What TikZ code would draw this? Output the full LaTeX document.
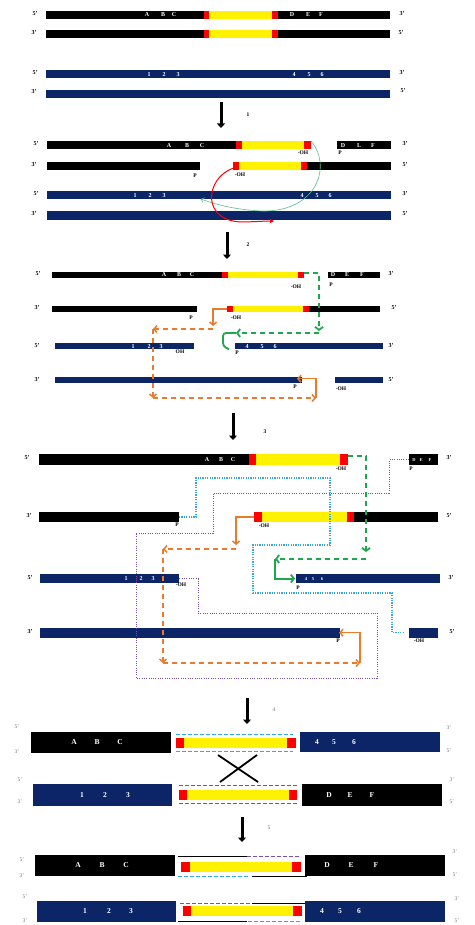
\documentclass[tikz,border=0pt]{standalone}
\usepackage{fontspec}
\setmainfont{Liberation Serif}
\usetikzlibrary{arrows.meta}
\definecolor{navy}{HTML}{0B2566}
\definecolor{grn}{HTML}{1FA64E}
\definecolor{lgrn}{HTML}{5CBF8C}
\definecolor{org}{HTML}{E97B2C}
\definecolor{cyn}{HTML}{36A8DE}
\definecolor{prp}{HTML}{7D50A8}
\begin{document}
\begin{tikzpicture}[x=1pt,y=-1pt]
  \tikzstyle{dna}=[rectangle,anchor=north west,inner sep=0pt,outer sep=0pt,fill=black]
  \tikzstyle{host}=[dna,fill=navy]
  \tikzstyle{redend}=[dna,fill=red]
  \tikzstyle{core}=[dna,fill=yellow]
  \tikzstyle{seqtxt}=[inner sep=0pt,text=white,font=\fontsize{6}{7}\selectfont\bfseries]
  \tikzstyle{smalltxt}=[seqtxt,font=\fontsize{4.5}{5}\selectfont\bfseries]
  \tikzstyle{bigtxt}=[seqtxt,font=\fontsize{7.5}{8}\selectfont\bfseries]
  \tikzstyle{endlbl}=[inner sep=0pt,font=\fontsize{6}{7}\selectfont\bfseries]
  \tikzstyle{greylbl}=[inner sep=0pt,text=black!55,font=\fontsize{5.5}{6}\selectfont]
  \tikzstyle{chem}=[inner sep=0pt,font=\fontsize{5.5}{6}\selectfont\bfseries]
  \tikzstyle{stepline}=[line width=3pt,-{Triangle[length=4.5pt,width=8pt]}]
  \tikzstyle{gdash}=[draw=grn,line width=1.8pt,dash pattern=on 5pt off 4pt,-{Straight Barb[length=3pt,width=8pt]}]
  \tikzstyle{gsolid}=[gdash,solid]
  \tikzstyle{odash}=[draw=org,line width=1.5pt,dash pattern=on 5pt off 4pt,-{Straight Barb[length=3pt,width=7pt]}]
  \tikzstyle{osolid}=[odash,solid]
  \tikzstyle{cdot}=[draw=cyn,line width=1.1pt,dash pattern=on 1.2pt off 1.2pt]
  \tikzstyle{pdot}=[draw=prp,line width=0.9pt,dash pattern=on 1pt off 1.3pt]
  \tikzstyle{cdash}=[draw=cyn,line width=1pt,dash pattern=on 4pt off 2pt]
  \tikzstyle{pdash}=[draw=prp,line width=1pt,dash pattern=on 4pt off 2pt]
  \useasboundingbox (0,0) rectangle (474,925);
  \fill[white] (0,0) rectangle (474,925);

  % stage 0
  \node[dna,minimum width=344pt,minimum height=8pt] (a0t) at (46,11) {};
  \node[redend,minimum width=5pt,minimum height=8pt] (r0a) at (204,11) {};
  \node[core,minimum width=63pt,minimum height=8pt] (y0a) at (209,11) {};
  \node[redend,minimum width=6pt,minimum height=8pt] (r0b) at (272,11) {};
  \node[dna,minimum width=344pt,minimum height=8pt] (a0b) at (46,30.5) {};
  \node[redend,minimum width=5pt,minimum height=8pt] (r0c) at (204,30.5) {};
  \node[core,minimum width=63pt,minimum height=8pt] (y0b) at (209,30.5) {};
  \node[redend,minimum width=6pt,minimum height=8pt] (r0d) at (272,30.5) {};
  \node[host,minimum width=344pt,minimum height=8pt] (b0t) at (46,70.5) {};
  \node[host,minimum width=344pt,minimum height=8pt] (b0b) at (46,90) {};

  % stage 1
  \node[dna,minimum width=189pt,minimum height=8.5pt] (a1t) at (47,141) {};
  \node[redend,minimum width=6pt,minimum height=8.5pt] (r1a) at (236,141) {};
  \node[core,minimum width=62pt,minimum height=8.5pt] (y1a) at (242,141) {};
  \node[redend,minimum width=7pt,minimum height=8.5pt] (r1b) at (304,141) {};
  \node[dna,minimum width=54pt,minimum height=8.5pt] (a1tr) at (337,141) {};
  \node[dna,minimum width=153pt,minimum height=8.5pt] (a1b) at (47,162) {};
  \node[redend,minimum width=6pt,minimum height=8.5pt] (r1c) at (233,162) {};
  \node[core,minimum width=62pt,minimum height=8.5pt] (y1b) at (239,162) {};
  \node[redend,minimum width=6pt,minimum height=8.5pt] (r1d) at (301,162) {};
  \node[dna,minimum width=84pt,minimum height=8.5pt] (a1br) at (307,162) {};
  \node[host,minimum width=344pt,minimum height=8.5pt] (b1t) at (47,191) {};
  \node[host,minimum width=344pt,minimum height=9pt] (b1b) at (47,211) {};

  % stage 2
  \node[dna,minimum width=170pt,minimum height=6.6pt] (a2t) at (52,271.7) {};
  \node[redend,minimum width=6pt,minimum height=6.6pt] (r2a) at (222,271.7) {};
  \node[core,minimum width=70pt,minimum height=6.6pt] (y2a) at (228,271.7) {};
  \node[redend,minimum width=6pt,minimum height=6.6pt] (r2b) at (298,271.7) {};
  \node[dna,minimum width=52pt,minimum height=6.6pt] (a2tr) at (328,271.7) {};
  \node[dna,minimum width=145pt,minimum height=6.6pt] (a2b) at (52,305.7) {};
  \node[redend,minimum width=6pt,minimum height=6.6pt] (r2c) at (227,305.7) {};
  \node[core,minimum width=70pt,minimum height=6.6pt] (y2b) at (233,305.7) {};
  \node[redend,minimum width=6pt,minimum height=6.6pt] (r2d) at (303,305.7) {};
  \node[dna,minimum width=71pt,minimum height=6.6pt] (a2br) at (309,305.7) {};
  \node[host,minimum width=139pt,minimum height=6pt] (b2t) at (55,343.3) {};
  \node[host,minimum width=148pt,minimum height=6pt] (b2tr) at (235,343.3) {};
  \node[host,minimum width=247pt,minimum height=6.6pt] (b2b) at (55,376.7) {};
  \node[host,minimum width=48pt,minimum height=6.6pt] (b2br) at (335,376.7) {};

  % stage 3
  \node[dna,minimum width=210pt,minimum height=11pt] (a3t) at (39,454.3) {};
  \node[redend,minimum width=7pt,minimum height=11pt] (r3a) at (249,454.3) {};
  \node[core,minimum width=84pt,minimum height=11pt] (y3a) at (256,454.3) {};
  \node[redend,minimum width=8pt,minimum height=11pt] (r3b) at (340,454.3) {};
  \node[dna,minimum width=29pt,minimum height=11pt] (a3tr) at (409,454.3) {};
  \node[dna,minimum width=140pt,minimum height=10.6pt] (a3b) at (39,511.7) {};
  \node[redend,minimum width=8pt,minimum height=10.6pt] (r3c) at (254,511.7) {};
  \node[core,minimum width=85pt,minimum height=10.6pt] (y3b) at (262,511.7) {};
  \node[redend,minimum width=7pt,minimum height=10.6pt] (r3d) at (347,511.7) {};
  \node[dna,minimum width=84pt,minimum height=10.6pt] (a3br) at (354,511.7) {};
  \node[host,minimum width=139pt,minimum height=9.3pt] (b3t) at (40,574) {};
  \node[host,minimum width=144pt,minimum height=9.3pt] (b3tr) at (296,574) {};
  \node[host,minimum width=300pt,minimum height=10pt] (b3b) at (40,627.7) {};
  \node[host,minimum width=29pt,minimum height=10pt] (b3br) at (409,627.7) {};

  % stage 4
  \node[dna,minimum width=140pt,minimum height=21pt] (a4l) at (31,732) {};
  \node[redend,minimum width=8pt,minimum height=10pt] (r4a) at (176,738) {};
  \node[core,minimum width=103pt,minimum height=10pt] (y4a) at (184,738) {};
  \node[redend,minimum width=9pt,minimum height=10pt] (r4b) at (287,738) {};
  \node[host,minimum width=140pt,minimum height=20pt] (b4r) at (300,732) {};
  \node[host,minimum width=139pt,minimum height=22pt] (b4l) at (33,784) {};
  \node[redend,minimum width=8pt,minimum height=10pt] (r4c) at (179,790) {};
  \node[core,minimum width=102pt,minimum height=10pt] (y4b) at (187,790) {};
  \node[redend,minimum width=8pt,minimum height=10pt] (r4d) at (289,790) {};
  \node[dna,minimum width=140pt,minimum height=22pt] (a4r) at (302,784) {};

  % stage 5
  \node[dna,minimum width=140pt,minimum height=21pt] (a5l) at (35,855) {};
  \node[redend,minimum width=9pt,minimum height=10pt] (r5a) at (181,862) {};
  \node[core,minimum width=102pt,minimum height=10pt] (y5a) at (190,862) {};
  \node[redend,minimum width=9pt,minimum height=10pt] (r5b) at (292,862) {};
  \node[dna,minimum width=140pt,minimum height=21pt] (a5r) at (305,855) {};
  \node[host,minimum width=139pt,minimum height=21pt] (b5l) at (37,901) {};
  \node[redend,minimum width=8pt,minimum height=10pt] (r5c) at (183,906) {};
  \node[core,minimum width=102pt,minimum height=10pt] (y5b) at (191,906) {};
  \node[redend,minimum width=9pt,minimum height=10pt] (r5d) at (293,906) {};
  \node[host,minimum width=140pt,minimum height=21pt] (b5r) at (305,901) {};

  % letters on the strands
  \foreach \t/\x/\y [count=\n] in {A/147/15,B/163/15,C/174/15,D/292/15,E/308/15,F/321/15,
      1/149/74.5,2/164/74.5,3/178/74.5,4/294/74.5,5/309/74.5,6/322/74.5,
      A/169/145.2,B/187/145.2,C/202/145.2,D/343/145.2,L/359/145.2,F/373/145.2,
      1/135/195.2,2/150/195.2,3/164/195.2,4/302/195.2,5/317/195.2,6/330/195.2,
      A/164/275,B/179/275,C/192/275,D/333/275,E/347/275,F/362/275,
      1/133/346.3,2/149/346.3,3/161/346.3,4/247/346.3,5/262/346.3,6/275/346.3,
      A/207/459.8,B/221/459.8,C/233/459.8,1/126/578.7,2/141/578.7,3/153/578.7}
    \node[seqtxt] (sq\n) at (\x,\y) {\t};
  \foreach \t/\x/\y [count=\n] in {D/414/459.8,E/421/459.8,F/430/459.8,4/306/578.7,5/313/578.7,6/322/578.7}
    \node[smalltxt] (sm\n) at (\x,\y) {\t};
  \foreach \t/\x/\y [count=\n] in {A/74/742.5,B/97/742.5,C/120/742.5,4/317/742,5/334/742,6/354/742,
      1/82/795,2/105/795,3/128/795,D/329/795,E/350/795,F/372/795,
      A/78/865.5,B/102/865.5,C/126/865.5,D/327/865.5,E/351/865.5,F/376/865.5,
      1/85/911.5,2/109/911.5,3/131/911.5,4/322/911.5,5/340/911.5,6/359/911.5}
    \node[bigtxt] (bg\n) at (\x,\y) {\t};

  % strand ends
  \foreach \t/\x/\y [count=\n] in {5/35/14,3/402/14,3/34/33,5/401/33,5/35/73,3/402/73,3/34/92,5/403/91,
      5/36/144,3/405/144,3/34/165,5/405/165,5/36/194,3/405/194,3/34/214,5/405/214,
      5/38/274,3/391/274,3/37/308,5/394/308,5/37/346,3/391/346,3/37/380,5/391/380,
      5/27/458,3/449/458,3/29/516,5/449/516,5/30/578,3/451/578,3/30/632,5/452/632}
    \node[endlbl] (end\n) at (\x,\y) {\t'};
  \foreach \t/\x/\y [count=\n] in {5/17/727,3/17/752,5/20/780,3/20/802,5/22/860,3/22/876,5/25/897,3/25/921,
      3/449/728,5/449/751,3/452/780,5/452/802,3/455/852,5/455/875,3/457/899,5/457/921}
    \node[greylbl] (gend\n) at (\x,\y) {\t'};
  \foreach \t/\x/\y [count=\n] in {-OH/303/153,P/340/153,P/195/176,-OH/240/175,
      -OH/296/287,P/331/285,P/191/318,-OH/236/318,OH/180/352,P/237/353,P/295/387,-OH/341/389,
      -OH/341/469,P/411/469,P/177/525,-OH/264/526,-OH/181/585,P/298/588,P/338/641,-OH/419/641}
    \node[chem] (ch\n) at (\x,\y) {\t};

  % steps
  \coordinate (s1a) at (221,102); \coordinate (s1b) at (221,128);
  \coordinate (s2a) at (227,232); \coordinate (s2b) at (227,259);
  \coordinate (s3a) at (233,413); \coordinate (s3b) at (233,440);
  \coordinate (s4a) at (247,698); \coordinate (s4b) at (247,724);
  \coordinate (s5a) at (242,817); \coordinate (s5b) at (242,842);
  \draw[stepline] (s1a) -- (s1b);
  \draw[stepline] (s2a) -- (s2b);
  \draw[stepline] (s3a) -- (s3b);
  \draw[stepline] (s4a) -- (s4b);
  \draw[stepline] (s5a) -- (s5b);
  \node[chem] (n1) at (248,115) {1};
  \node[chem] (n2) at (248,245) {2};
  \node[chem] (n3) at (265,432) {3};
  \node[greylbl] (n4) at (274,710) {4};
  \node[greylbl] (n5) at (269,828) {5};

  % stage 1 moves
  \coordinate (g1end) at (201,199);
  \coordinate (r1end) at (274,221);
  \draw[lgrn,line width=0.6pt,-{Straight Barb[length=2.5pt,width=5pt]}] (r1b.north east) .. controls (332,165) and (318,212) .. (262,211) .. controls (236,210) and (214,204) .. (g1end);
  \draw[red,line width=1pt,-{Triangle[length=4pt,width=4pt]}] ([yshift=-2pt]r1c.west) .. controls (205,178) and (200,223) .. (245,222) .. controls (258,221.5) and (266,221) .. (r1end);

  % stage 2 moves
  \coordinate (g2a) at (319,333); \coordinate (g2b) at (236,333);
  \draw[gdash,shorten >=2pt] ([yshift=-1.5pt]r2b.north east) -| (g2a);
  \draw[gdash] (g2a) -- (g2b);
  \draw[gsolid,-,rounded corners=3pt] (g2b) -- ++(-13,0) -- ++(0,13) -- ([xshift=-6pt]b2tr.south west);
  \coordinate (o2a) at (213,329); \coordinate (o2b) at (153,329);
  \coordinate (o2c) at (153,398); \coordinate (o2d) at (316,398);
  \draw[osolid,shorten >=3pt] (r2c.west) -| (o2a);
  \draw[odash] (o2a) -- (o2b);
  \draw[odash] (o2b) -- (o2c);
  \draw[odash] (o2c) -- (o2d);
  \draw[osolid] (o2d) |- ([xshift=-5pt,yshift=-2pt]b2b.north east);

  % stage 3 moves
  \draw[cdot] (a3b.east) -- ++(17,0) |- (330,478) |- (253,545) |- (392,593) |- ([xshift=-5pt]b3br.west);
  \draw[pdot] (a3tr.west) -- ++(-20,0) |- (213,493) |- (136,533) |- (377,678) |- (198,613) |- (b3t.east);
  \coordinate (g3a) at (366,559); \coordinate (g3b) at (275,559);
  \draw[gdash,shorten >=7pt] ([yshift=-2pt]r3b.north east) -| (g3a);
  \draw[gdash] (g3a) -- (g3b);
  \draw[gsolid] (g3b) |- ([xshift=-1pt]b3tr.west);
  \coordinate (o3a) at (236,549); \coordinate (o3b) at (163,549);
  \coordinate (o3c) at (163,663); \coordinate (o3d) at (360,663);
  \draw[osolid,shorten >=4pt] (r3c.west) -| (o3a);
  \draw[odash] (o3a) -- (o3b);
  \draw[odash] (o3b) -- (o3c);
  \draw[odash] (o3c) -- (o3d);
  \draw[osolid] (o3d) |- ([xshift=-1pt,yshift=-5pt]b3b.north east);

  % stage 4 and 5 strands
  \draw[cdash] (176,734.3) -- (293,734.3);
  \draw[cdash] (176,751) -- (293,751);
  \draw[pdash] (179,785.5) -- (297,785.5);
  \draw[pdash] (179,803.5) -- (297,803.5);
  \draw[line width=1.8pt] (218,755) -- (258,782);
  \draw[line width=1.8pt] (257,755) -- (220,782);
  \draw[line width=0.9pt] (178,856) -- (247,856);
  \draw[pdash] (247,856) -- (301,856);
  \draw[cdash] (178,876) -- (248,876);
  \draw[line width=0.9pt] (252,876) -- (307,876);
  \draw[pdash] (180,903) -- (250,903);
  \draw[line width=0.9pt] (252,903) -- (305,903);
  \draw[line width=0.9pt] (178,921) -- (247,921);
  \draw[cdash] (248,921) -- (302,921);
\end{tikzpicture}
\end{document}
